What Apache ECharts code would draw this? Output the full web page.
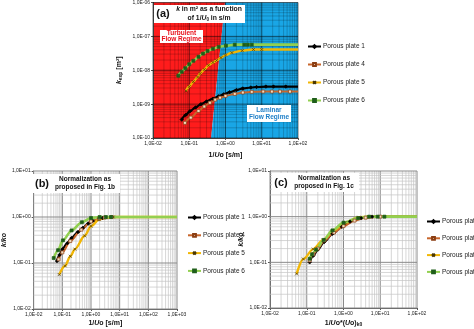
<!DOCTYPE html>
<html><head><meta charset="utf-8">
<script src="https://cdn.jsdelivr.net/npm/echarts@6/dist/echarts.min.js"></script>
<style>html,body{margin:0;padding:0;background:#fff}#c{width:474px;height:329px}</style>
</head><body><div id="c"></div>
<script>
// ---------- DATA ----------
const seriesNames = ['Porous plate 1', 'Porous plate 4', 'Porous plate 5', 'Porous plate 6'];

// Panel (a): k_exp [m2] vs 1/Uo [s/m]
const a1x = [0.062, 0.08, 0.105, 0.15, 0.21, 0.3, 0.45, 0.65, 0.9, 1.3, 2, 3, 5, 7.2, 13, 21, 46, 100];
const a1y = [3.5e-10, 4.8e-10, 6.2e-10, 8e-10, 1.0e-9, 1.2e-9, 1.45e-9, 1.7e-9, 1.95e-9, 2.25e-9, 2.6e-9, 2.9e-9, 3.1e-9, 3.2e-9, 3.3e-9, 3.3e-9, 3.3e-9, 3.3e-9];
const a4x = [0.076, 0.11, 0.18, 0.26, 0.37, 0.52, 0.71, 1.0, 1.8, 3, 5.3, 11, 19, 32, 60, 100];
const a4y = [2.8e-10, 4.0e-10, 6.3e-10, 8.5e-10, 1.1e-9, 1.35e-9, 1.55e-9, 1.75e-9, 2.0e-9, 2.2e-9, 2.3e-9, 2.35e-9, 2.35e-9, 2.35e-9, 2.35e-9, 2.35e-9];
const a5x = [0.081, 0.1, 0.13, 0.17, 0.2, 0.26, 0.34, 0.45, 0.57, 0.75, 1.0, 1.5, 2.9, 5.9, 10, 100];
const a5y = [2.45e-9, 3.3e-9, 4.6e-9, 6.3e-9, 8e-9, 1.05e-8, 1.4e-8, 1.7e-8, 1.95e-8, 2.35e-8, 2.8e-8, 3.3e-8, 3.8e-8, 4.1e-8, 4.1e-8, 4.1e-8];
const a6x = [0.05, 0.062, 0.078, 0.1, 0.13, 0.18, 0.24, 0.32, 0.45, 0.65, 1.03, 1.8, 3.3, 4.1, 5.3, 100];
const a6y = [6.9e-9, 9e-9, 1.15e-8, 1.5e-8, 1.9e-8, 2.5e-8, 3.1e-8, 3.7e-8, 4.3e-8, 4.9e-8, 5.3e-8, 5.7e-8, 5.7e-8, 5.7e-8, 5.7e-8, 5.7e-8];
// turbulent / laminar regime boundary (panel a)
const regimeBoundaryX = [0.4, 0.97];
const regimeBoundaryY = [1e-10, 1e-6];

// Panel (b): k/k0 vs 1/Uo [s/m]
const b1x = [0.065, 0.08, 0.1, 0.15, 0.21, 0.35, 0.52, 0.8, 1.15, 2.5, 5.2, 1000];
const b1y = [0.11, 0.15, 0.2, 0.27, 0.35, 0.47, 0.58, 0.72, 0.82, 0.95, 1, 1];
const b4x = [0.074, 0.1, 0.19, 0.46, 1.0, 1.9, 3, 5.3, 1000];
const b4y = [0.12, 0.17, 0.3, 0.53, 0.8, 0.92, 0.97, 1, 1];
const b5x = [0.078, 0.125, 0.19, 0.275, 0.6, 1.0, 1.9, 3.2, 6, 1000];
const b5y = [0.056, 0.087, 0.14, 0.2, 0.39, 0.63, 0.88, 0.97, 1, 1];
const b6x = [0.05, 0.071, 0.105, 0.21, 0.48, 1.0, 2.0, 3.3, 5, 1000];
const b6y = [0.128, 0.19, 0.31, 0.51, 0.77, 0.95, 1, 1, 1, 1];

// Panel (c): k/k0 vs 1/Uo*(Uo)k0
const c1x = [0.12, 0.15, 0.2, 0.3, 0.5, 0.9, 1.5, 3, 6, 100];
const c1y = [0.1, 0.14, 0.19, 0.28, 0.42, 0.6, 0.78, 0.93, 1, 1];
const c4x = [0.12, 0.15, 0.2, 0.3, 0.55, 1.0, 2, 4, 10, 100];
const c4y = [0.11, 0.15, 0.2, 0.3, 0.45, 0.62, 0.82, 0.95, 1, 1];
const c5x = [0.053, 0.081, 0.15, 0.28, 0.53, 1.1, 2.6, 5, 100];
const c5y = [0.056, 0.118, 0.195, 0.31, 0.5, 0.74, 0.97, 1, 1];
const c6x = [0.12, 0.14, 0.18, 0.29, 0.5, 1.0, 2.5, 5, 8.5, 13, 100];
const c6y = [0.12, 0.15, 0.19, 0.31, 0.5, 0.74, 0.93, 1, 1, 1, 1];

// axis ranges
const aX = [0.01, 100], aY = [1e-10, 1e-6];
const bX = [0.01, 1000], bY = [0.01, 10];
const cX = [0.01, 100], cY = [0.01, 10];

// ---------- CHART ----------
const FONT = '"Liberation Sans", Arial, sans-serif';
const chart = echarts.init(document.getElementById('c'));

function sci(v) {
  const e = Math.round(Math.log10(v));
  const a = Math.abs(e);
  return '1,0E' + (e < 0 ? '-' : '+') + (a < 10 ? '0' : '') + a;
}

const styles = [
  { color: '#000000', width: 2.2, symbol: 'diamond', size: 3.5, fill: '#000000', border: '#000000' },
  { color: '#c8662c', width: 2, symbol: 'rect', size: 3, fill: '#f3dcc0', border: '#8a3d12' },
  { color: '#f2b705', width: 2.4, symbol: 'path://M0,0L10,10M10,0L0,10', size: 3, fill: 'rgba(0,0,0,0)', border: '#4a3600' },
  { color: '#92d050', width: 2.6, symbol: 'rect', size: 3, fill: '#1f5e1a', border: '#1f5e1a' }
];

function lineSeries(idx, k, xs, ys) {
  const st = styles[k];
  const data = xs.map((x, i) => i === xs.length - 1 ? { value: [x, ys[i]], symbol: 'none' } : [x, ys[i]]);
  return {
    type: 'line', name: seriesNames[k], xAxisIndex: idx, yAxisIndex: idx, data,
    smooth: 0.3, smoothMonotone: 'x', symbol: st.symbol, symbolSize: st.size, showSymbol: true,
    z: 3, animation: false, silent: true,
    lineStyle: { color: st.color, width: st.width },
    itemStyle: { color: st.fill, borderColor: st.border, borderWidth: 0.7 }
  };
}

function logGridSeries(idx, xr, yr, minorC, majorC) {
  return {
    type: 'custom', xAxisIndex: idx, yAxisIndex: idx, z: 1, silent: true, animation: false,
    data: [[xr[0], yr[0]]],
    renderItem: (params, api) => {
      const ch = [];
      const p0 = api.coord([xr[0], yr[0]]), p1 = api.coord([xr[1], yr[1]]);
      const ex0 = Math.round(Math.log10(xr[0])), ex1 = Math.round(Math.log10(xr[1]));
      for (let e = ex0; e <= ex1; e++) {
        for (let m = 1; m <= 9; m++) {
          if (e === ex1 && m > 1) break;
          const x = api.coord([m * Math.pow(10, e), yr[0]])[0];
          ch.push({ type: 'line', shape: { x1: x, y1: p0[1], x2: x, y2: p1[1] },
            style: { stroke: m === 1 ? majorC : minorC, lineWidth: m === 1 ? 1 : 0.7 } });
        }
      }
      const ey0 = Math.round(Math.log10(yr[0])), ey1 = Math.round(Math.log10(yr[1]));
      for (let e = ey0; e <= ey1; e++) {
        for (let m = 1; m <= 9; m++) {
          if (e === ey1 && m > 1) break;
          const y = api.coord([xr[0], m * Math.pow(10, e)])[1];
          ch.push({ type: 'line', shape: { x1: p0[0], y1: y, x2: p1[0], y2: y },
            style: { stroke: m === 1 ? majorC : minorC, lineWidth: m === 1 ? 1 : 0.7 } });
        }
      }
      return { type: 'group', children: ch };
    }
  };
}

const regimeSeries = {
  type: 'custom', xAxisIndex: 0, yAxisIndex: 0, z: 0, silent: true, animation: false,
  data: [[aX[0], aY[0]]],
  renderItem: (params, api) => {
    const tl = api.coord([aX[0], aY[1]]), bl = api.coord([aX[0], aY[0]]);
    const tr = api.coord([aX[1], aY[1]]), br = api.coord([aX[1], aY[0]]);
    const bb = api.coord([regimeBoundaryX[0], regimeBoundaryY[0]]);
    const bt = api.coord([regimeBoundaryX[1], regimeBoundaryY[1]]);
    return { type: 'group', children: [
      { type: 'polygon', shape: { points: [tl, bt, bb, bl] }, style: { fill: '#ff1c1c' } },
      { type: 'polygon', shape: { points: [bt, tr, br, bb] }, style: { fill: '#19a6e6' } }
    ] };
  }
};

const titleStyle = { fontFamily: FONT, fontSize: 7, fontWeight: 'bold', color: '#111' };
const richT = {
  n: { fontFamily: FONT, fontSize: 7, fontWeight: 'bold', color: '#111' },
  i: { fontFamily: FONT, fontSize: 7, fontWeight: 'bold', fontStyle: 'italic', color: '#111' },
  s: { fontFamily: FONT, fontSize: 5, fontWeight: 'bold', color: '#111', padding: [3, 0, 0, 0] }
};

function axis(gridIndex, range, name, nameGap) {
  return {
    type: 'log', logBase: 10, gridIndex, min: range[0], max: range[1],
    name, nameLocation: 'middle', nameGap, nameTextStyle: Object.assign({ rich: richT }, titleStyle),
    axisLine: { show: true, onZero: false, lineStyle: { color: '#555', width: 1 } },
    axisTick: { show: true, length: 2, lineStyle: { color: '#555' } },
    axisLabel: { fontSize: 5, fontFamily: FONT, color: '#222', formatter: sci, margin: 3, showMinLabel: true, showMaxLabel: true },
    splitLine: { show: false }, minorTick: { show: false }, minorSplitLine: { show: false }
  };
}

const legendBase = {
  orient: 'vertical', itemWidth: 13, itemHeight: 3.5, data: seriesNames, selectedMode: false,
  textStyle: { fontFamily: FONT, fontSize: 6.5, color: '#222', padding: [0, 0, 0, -3] }
};

function txt(x, y, text, extra) {
  return Object.assign({ type: 'text', x, y, z: 101,
    style: Object.assign({ text, fill: '#111', align: 'center', verticalAlign: 'middle',
      font: 'bold 6.5px ' + FONT }, extra || {}) });
}
const richA = {
  n: { fontFamily: FONT, fontSize: 6.8, fontWeight: 'bold', fill: '#111' },
  i: { fontFamily: FONT, fontSize: 6.8, fontWeight: 'bold', fontStyle: 'italic', fill: '#111' },
  s: { fontFamily: FONT, fontSize: 4.5, fontWeight: 'bold', fill: '#111', padding: [3, 0, 0, 0] }
};

const option = {
  backgroundColor: '#ffffff',
  animation: false,
  grid: [
    { left: 153, top: 1, width: 145, height: 137, containLabel: false },
    { left: 29, top: 171, width: 148, height: 138, containLabel: false },
    { left: 270, top: 171, width: 147, height: 137, containLabel: false }
  ],
  xAxis: [
    axis(0, aX, '1/{i|U}{n|o [s/m]}', 14),
    axis(1, bX, '1/{i|U}{n|o [s/m]}', 11),
    axis(2, cX, '1/{i|U}{n|o*(}{i|U}{n|o)}{s|k0}', 11)
  ],
  yAxis: [
    axis(0, aY, '{i|k}{s|exp}{n| [m²]}', 30),
    axis(1, bY, '{i|k/ko}', 19),
    axis(2, cY, '{i|k/ko}', 21)
  ],
  legend: [
    Object.assign({ left: 302, top: 38, itemGap: 11 }, legendBase),
    Object.assign({ left: 182, top: 209, itemGap: 10.8 }, legendBase),
    Object.assign({ left: 421, top: 213, itemGap: 9.8 }, legendBase)
  ],
  series: [
    regimeSeries,
    logGridSeries(0, aX, aY, 'rgba(0,0,0,0.28)', 'rgba(0,0,0,0.55)'),
    logGridSeries(1, bX, bY, '#c4c4c4', '#8a8a8a'),
    logGridSeries(2, cX, cY, '#c4c4c4', '#8a8a8a'),
    lineSeries(0, 0, a1x, a1y), lineSeries(0, 1, a4x, a4y), lineSeries(0, 2, a5x, a5y), lineSeries(0, 3, a6x, a6y),
    lineSeries(1, 0, b1x, b1y), lineSeries(1, 1, b4x, b4y), lineSeries(1, 2, b5x, b5y), lineSeries(1, 3, b6x, b6y),
    lineSeries(2, 0, c1x, c1y), lineSeries(2, 1, c4x, c4y), lineSeries(2, 2, c5x, c5y), lineSeries(2, 3, c6x, c6y)
  ],
  graphic: [
    { type: 'rect', shape: { x: 154, y: 5, width: 91, height: 18 }, style: { fill: '#fff' }, z: 100 },
    txt(163, 14, '(a)', { font: 'bold 11px ' + FONT }),
    txt(209, 9.5, '{i|k}{n| in m² as a function}', { rich: richA }),
    txt(209, 18.5, '{n|of 1/}{i|U}{s|0}{n| in s/m}', { rich: richA }),
    { type: 'rect', shape: { x: 160, y: 30, width: 43, height: 13 }, style: { fill: '#fff' }, z: 100 },
    txt(181.5, 33.5, 'Turbulent', { fill: '#e8101a' }),
    txt(181.5, 39.5, 'Flow Regime', { fill: '#e8101a' }),
    { type: 'rect', shape: { x: 247, y: 105, width: 44, height: 17 }, style: { fill: '#fff' }, z: 100 },
    txt(269, 110, 'Laminar', { fill: '#1e7fc8' }),
    txt(269, 117, 'Flow Regime', { fill: '#1e7fc8' }),
    { type: 'rect', shape: { x: 33, y: 174, width: 87, height: 19 }, style: { fill: '#fff' }, z: 100 },
    txt(42, 184, '(b)', { font: 'bold 11px ' + FONT }),
    txt(85, 179.5, 'Normalization as'),
    txt(85, 187.5, 'proposed in Fig. 1b'),
    { type: 'rect', shape: { x: 272, y: 173, width: 87, height: 19 }, style: { fill: '#fff' }, z: 100 },
    txt(281, 183, '(c)', { font: 'bold 11px ' + FONT }),
    txt(324, 178.5, 'Normalization as'),
    txt(324, 186.5, 'proposed in Fig. 1c')
  ]
};
chart.setOption(option);
</script>
</body></html>
